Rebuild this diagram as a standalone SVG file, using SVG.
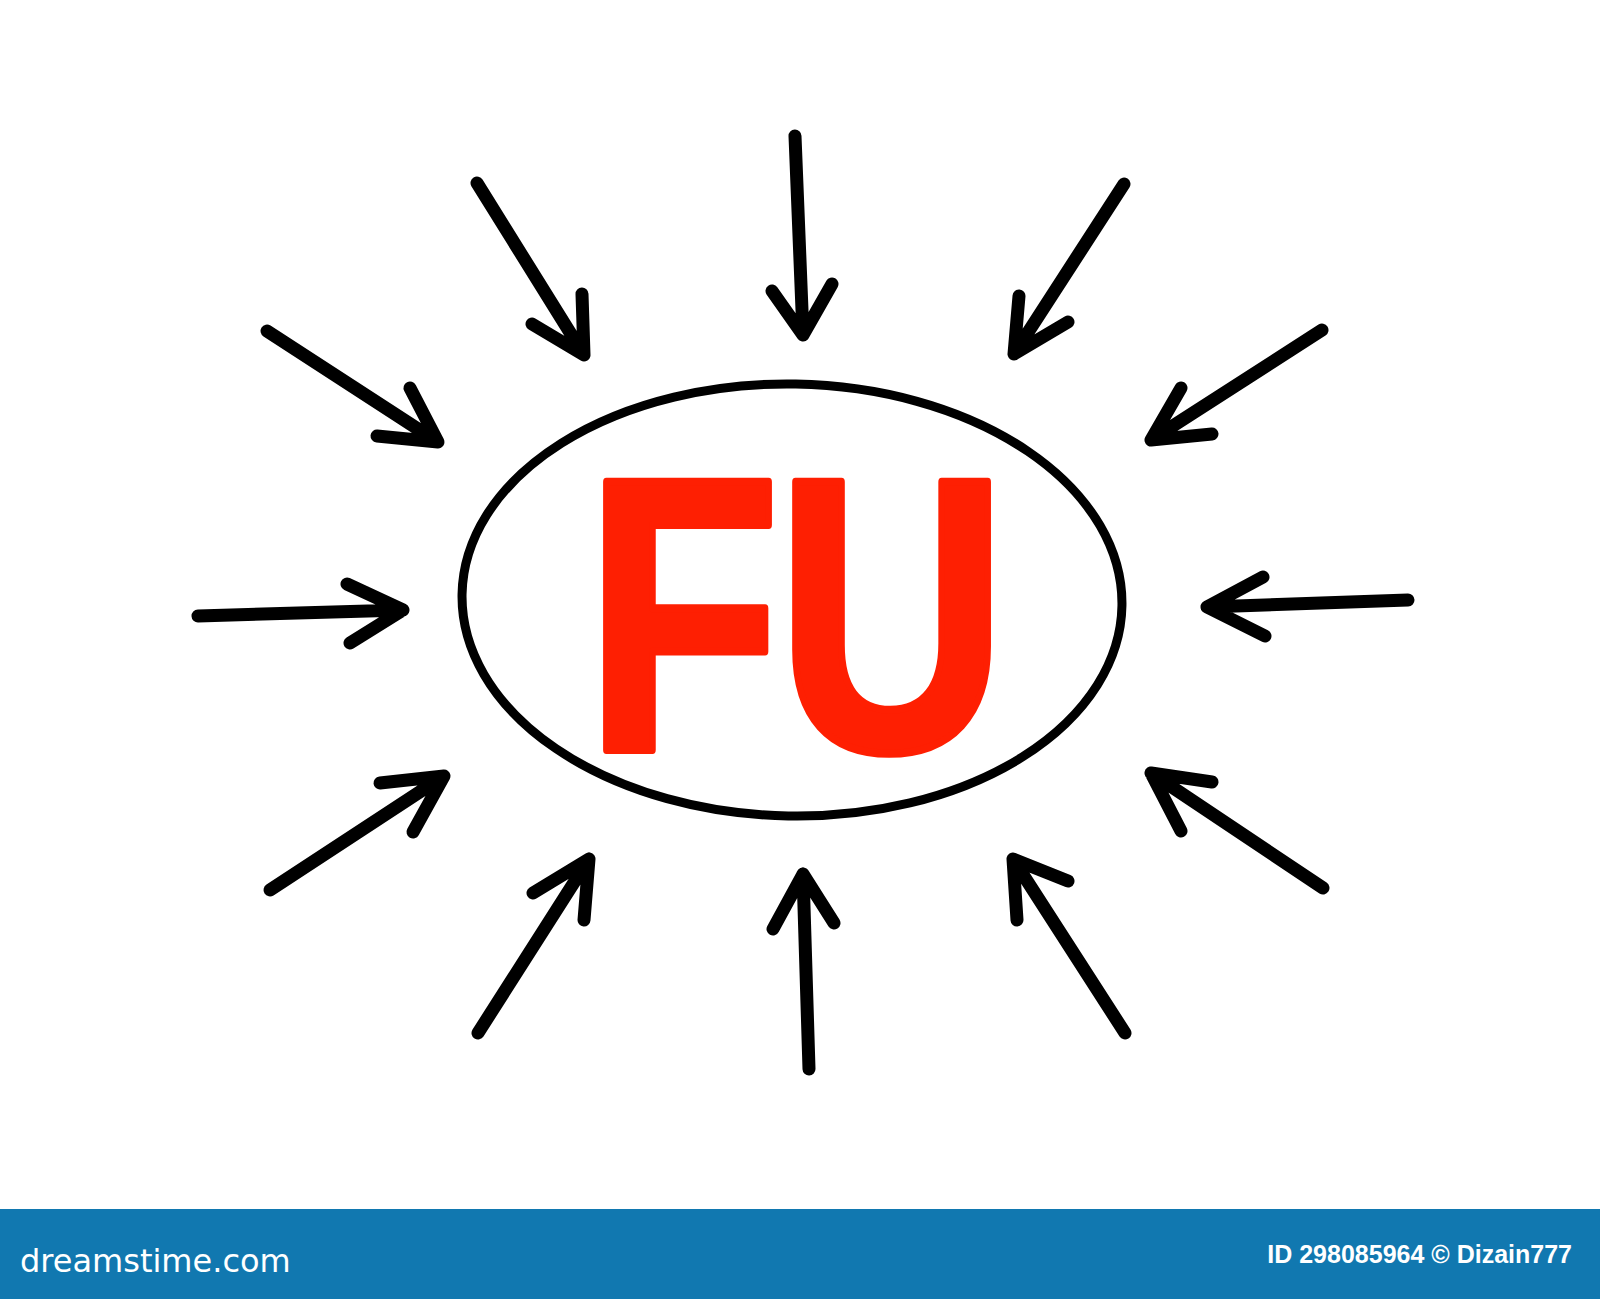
<svg xmlns="http://www.w3.org/2000/svg" width="1600" height="1299" viewBox="0 0 1600 1299">
<style>
.arr{fill:none;stroke:#000;stroke-width:13;stroke-linecap:round;stroke-linejoin:round}
.ring{fill:none;stroke:#000;stroke-width:9}
.fu{font-family:"Liberation Sans",Arial,sans-serif;font-weight:bold;font-size:390px;fill:#fe1f02;stroke:#fe1f02;stroke-width:8;stroke-linejoin:round}
.logo{font-family:"DejaVu Sans","Liberation Sans",sans-serif;font-size:32px;fill:#fff}
.credit{font-family:"Liberation Sans",Arial,sans-serif;font-weight:bold;font-size:25px;fill:#fff}
</style>
<rect width="1600" height="1299" fill="#fff"/>
<g id="center-node">
<ellipse class="ring" cx="792" cy="600" rx="330" ry="216" transform="rotate(1 792 600)"/>
<g transform="translate(585,750) scale(0.82,1)"><text class="fu" x="0" y="0">F<tspan dx="-5">U</tspan></text></g>
</g>
<g id="connectors">
<path class="arr" d="M795,136 L803,335 M772,291 L803,335 L832,284"/>
<path class="arr" d="M477,183 L584,355 M532,324 L584,355 L582,294"/>
<path class="arr" d="M1124,184 L1014,354 M1019,296 L1014,354 L1068,322"/>
<path class="arr" d="M267,331 L438,442 M410,388 L438,442 L377,436"/>
<path class="arr" d="M1322,330 L1151,440 M1181,388 L1151,440 L1212,434"/>
<path class="arr" d="M198,616 L403,610 M347,584 L403,610 L350,643"/>
<path class="arr" d="M1408,600 L1207,607 M1263,577 L1207,607 L1265,636"/>
<path class="arr" d="M270,890 L444,776 M380,783 L444,776 L413,832"/>
<path class="arr" d="M1323,888 L1151,773 M1212,782 L1151,773 L1181,831"/>
<path class="arr" d="M478,1033 L589,859 M533,893 L589,859 L584,920"/>
<path class="arr" d="M809,1069 L803,874 M773,929 L803,874 L834,923"/>
<path class="arr" d="M1125,1033 L1013,859 M1017,920 L1013,859 L1068,881"/>
</g>
<g id="banner">
<rect x="0" y="1209" width="1600" height="90" fill="#1178b0"/>
<text class="logo" x="20" y="1272">dreamstime.com</text>
<text class="credit" x="1572" y="1263" text-anchor="end">ID 298085964 © Dizain777</text>
</g>
</svg>
